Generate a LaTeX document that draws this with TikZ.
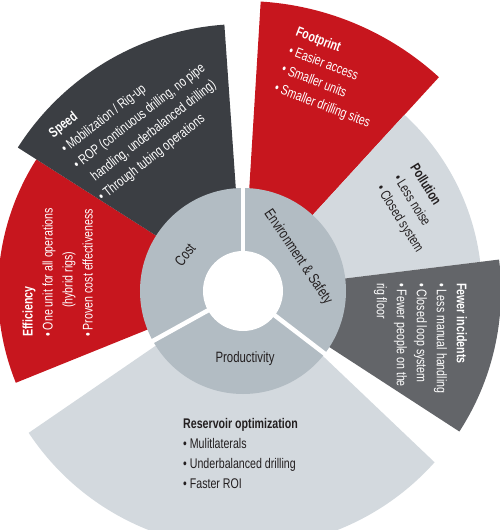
\documentclass[tikz,border=0pt]{standalone}
\usepackage{fontspec}
\setmainfont{Liberation Sans}[FakeStretch=0.76]

\definecolor{rigred}{HTML}{C7161E}
\definecolor{rigdark}{HTML}{3B3E43}
\definecolor{riggrey}{HTML}{636569}
\definecolor{riglight}{HTML}{D3D9DE}
\definecolor{rigring}{HTML}{B2BCC3}
\definecolor{rigtext}{HTML}{231F20}

\begin{document}
\begin{tikzpicture}[x=1pt, y=1pt,
    blurb/.style={align=left, inner sep=0pt, anchor=west, font=\fontsize{14}{20}\selectfont},
    hub/.style={inner sep=0pt, text=rigtext, font=\fontsize{15}{18}\selectfont}]
        % Frame of the picture
        \useasboundingbox (-243,-239) rectangle (257,291);
        \clip (-243,-239) rectangle (257,291);

        % Outer segments
        \fill[rigred] (0,0) -- (147.5:245) arc[start angle=147.5, end angle=202, radius=245] -- cycle;
        \fill[rigdark] (0,0) -- (94:267) arc[start angle=94, end angle=147.5, radius=267] -- cycle;
        \fill[rigred] (0,0) -- (47.5:290) arc[start angle=47.5, end angle=86.5, radius=290] -- cycle;
        \fill[riglight] (0,0) -- (7:239) arc[start angle=7, end angle=47.5, radius=239] -- cycle;
        \fill[riggrey] (0,0) -- (-33:258) arc[start angle=-33, end angle=7, radius=258] -- cycle;
        \fill[riglight] (212:100) -- (213.5:257) arc[start angle=213.5, end angle=318.2, radius=257] -- (321:100) -- cycle;

        % Inner ring
        \fill[rigring] (0,0) circle[radius=103];
        \fill[white] (0,0) circle[radius=40];
        \foreach \a in {90,209,322.5} {
            \draw[white, line width=4.5pt] (\a:38) -- (\a:106);
        }
        \node[hub, rotate=52] (cost) at (-58,36) {Cost};
        \node[hub, rotate=-56] (envsafe) at (55,34) {Environment \& Safety};
        \node[hub] (prod) at (2,-68) {Productivity};

        % Texts of the outer segments
        \node[blurb, text=white, rotate=38] (speed) at (-167.5,124) {\textbf{Speed}\\• Mobilization / Rig-up\\• ROP (continuous drilling, no pipe\\\phantom{• }handling, underbalanced drilling)\\• Through tubing operations};
        \node[blurb, text=white, rotate=90] (effic) at (-185.5,-46) {\textbf{Efficiency}\\• One unit for all operations\\\hspace*{29pt}(hybrid rigs)\\• Proven cost effectiveness};
        \node[blurb, text=white, rotate=-21] (foot) at (42.5,231) {\textbf{Footprint}\\• Easier access\\• Smaller units\\• Smaller drilling sites};
        \node[blurb, text=rigtext, rotate=-58] (pollu) at (153,115) {\textbf{Pollution}\\• Less noise\\• Closed system};
        \node[blurb, text=white, rotate=-90] (fewer) at (177.5,8) {\textbf{Fewer incidents}\\• Less manual handling\\• Closed loop system\\• Fewer people on the\\rig floor};
        \node[blurb, text=rigtext] (reserv) at (-60,-162.5) {\textbf{Reservoir optimization}\\• Mulitlaterals\\• Underbalanced drilling\\• Faster ROI};
\end{tikzpicture}
\end{document}
